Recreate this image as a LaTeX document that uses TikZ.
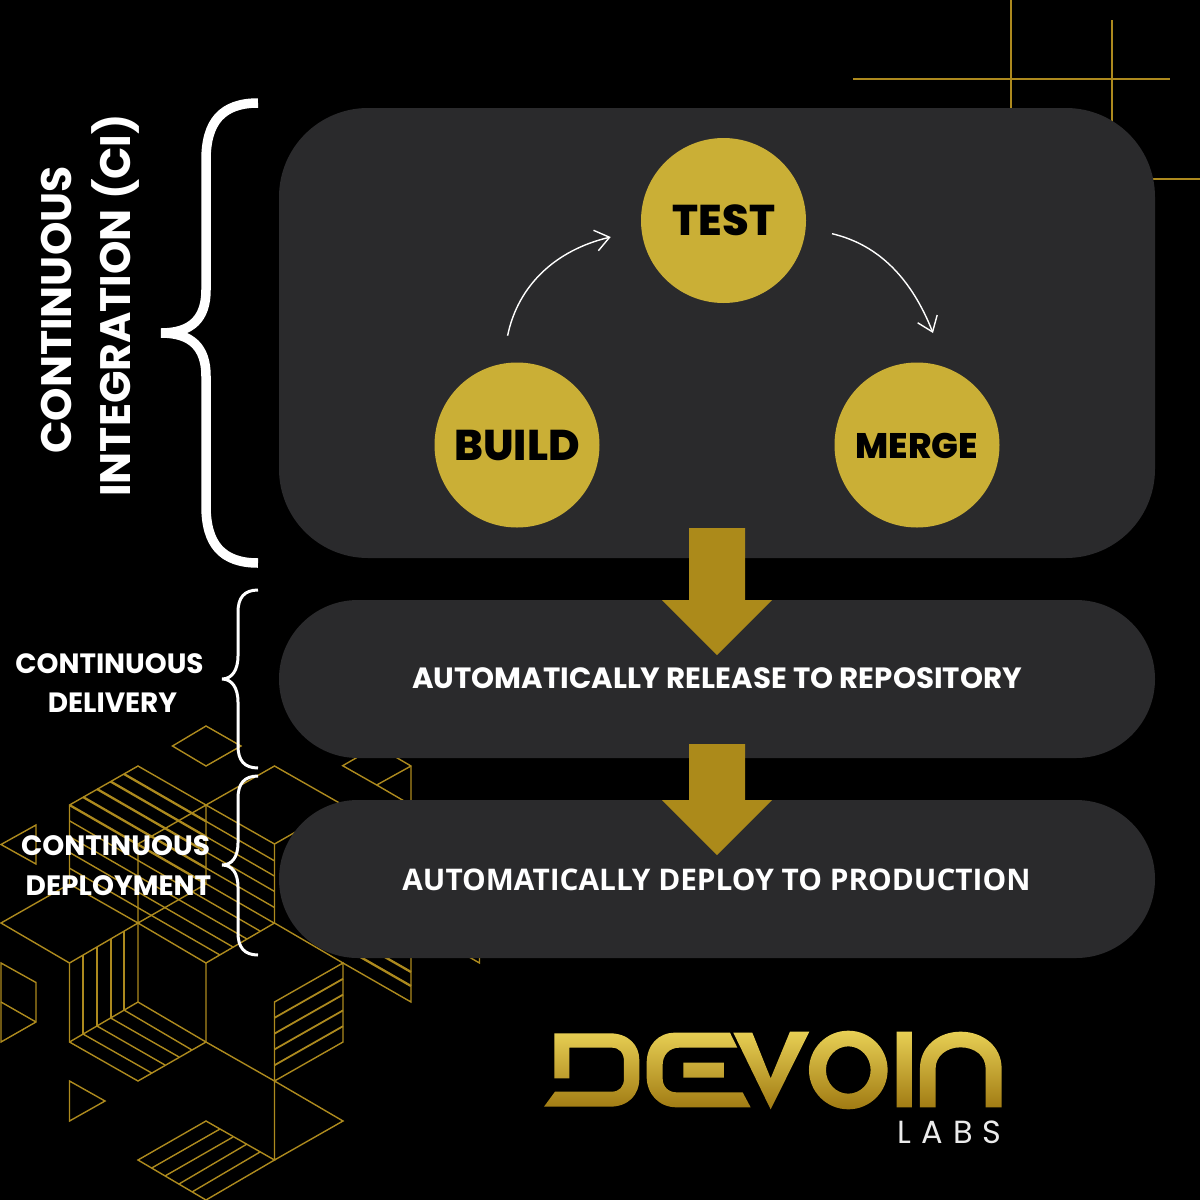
\documentclass[tikz,border=0pt]{standalone}
\usepackage{fontspec}
\usetikzlibrary{arrows.meta}
\setmainfont{Poppins}
\newfontfamily\heavyfont{Poppins ExtraBold}
\newfontfamily\osfont{Open Sans}
\newfontfamily\labsfont[LetterSpace=32]{Poppins}
\definecolor{bgblack}{HTML}{000000}
\definecolor{panel}{HTML}{2A2A2C}
\definecolor{goldline}{HTML}{AD8A1E}
\definecolor{goldcirc}{HTML}{CAAF36}
\definecolor{goldarrow}{HTML}{AC8A1A}
\definecolor{logotop}{HTML}{E8D055}
\definecolor{logomid}{HTML}{CFAE30}
\definecolor{logobot}{HTML}{A07A12}
\tikzset{
  pat/.style={draw=goldline,line width=1.4pt,line join=miter},
  patb/.style={draw=goldline,line width=2.3pt},
  panelbox/.style={fill=panel,draw=none},
  phase/.style={circle,fill=goldcirc,minimum size=165pt,inner sep=0pt},
  blackbold/.style={text=black,font=\heavyfont,inner sep=0pt,anchor=base},
  flowarrow/.style={draw=white,line width=1.4pt,-{Straight Barb[length=14pt,width=21pt,line width=1.4pt]}},
  downarrow/.style={fill=goldarrow,draw=none},
  bracebig/.style={draw=white,line width=9.5pt,line join=bevel},
  bracesmall/.style={draw=white,line width=3pt,line join=bevel},
  whitetext/.style={text=white,font=\bfseries,inner sep=0pt,anchor=base},
}
\begin{document}
\begin{tikzpicture}[x=1pt,y=-1pt]
\useasboundingbox (0,0) rectangle (1200,1200);
\fill[bgblack] (0,0) rectangle (1200,1200);
% top right lines
\draw[pat,line width=1.7pt] (853,79) -- (1170,79);
\draw[pat,line width=1.7pt] (1011,0) -- (1011,108);
\draw[pat,line width=1.7pt] (1112,20) -- (1112,126);
\draw[pat,line width=1.7pt] (1150,179) -- (1200,179);
% isometric pattern
\draw[pat] (172.5,746) -- (206,726) -- (241,746) -- (206,766) -- cycle;
\draw[pat] (36,825) -- (1,844.5) -- (36,864) -- cycle;
\draw[pat] (1,963) -- (36,982.5) -- (36,1022) -- (1,1042) -- cycle;
\draw[pat] (1,1002) -- (36,1022);
\draw[pat] (69.5,1081) -- (105,1101) -- (69.5,1121) -- cycle;
% upper cube
\draw[pat] (69.5,884) -- (69.5,805) -- (138,766) -- (206,805) -- (274.5,844) -- (274.5,923) -- (206,963) -- (138,923) -- (69.5,884);
\draw[pat] (206,805) -- (138,844) -- (138,923) -- (206,884) -- (206,805);
\draw[pat] (206,805) -- (274.5,766) -- (343,805) -- (411,844);
\draw[pat] (274.5,844) -- (343,805);
% hatches of upper cube
\foreach \xa/\ya in {124/774,110.6/781.5,97/789,83/797,69.5/805}{
  \pgfmathsetmacro\yb{\ya+(206-\xa)*0.577}
  \pgfmathsetmacro\yc{\ya+(274.5-\xa)*0.577}
  \draw[patb] (\xa,\ya) -- (206,\yb);
  \draw[pat] (206,\yb) -- (274.5,\yc);
}
\foreach \ya/\xb/\yb in {820.8/260/931,836.6/247/939,852.4/233/947,868.2/220/955}{
  \draw[pat] (69.5,\ya) -- (\xb,\yb);
}
% lower cube
\draw[pat] (69.5,884) -- (1,923) -- (69.5,963) -- (138,923);
\draw[pat] (69.5,963) -- (69.5,1042) -- (138,1081) -- (206,1042) -- (206,963);
\draw[pat] (138,923) -- (138,1002) -- (206,1042);
\draw[pat] (138,1002) -- (69.5,1042);
\foreach \xa/\ya/\yb in {83/955/1034,97/947/1026,110.7/939/1018,124/931/1010}{
  \draw[patb] (\xa,\ya) -- (\xa,\yb);
}
\foreach \xa/\ya/\xb/\yb in {83/1034/151.7/1073,97/1026/165/1065,110.7/1018/179/1057,124/1010/192/1050}{
  \draw[pat] (\xa,\ya) -- (\xb,\yb);
}
% bottom pieces
\draw[pat] (206,1042) -- (274.5,1081) -- (274.5,1160) -- (343,1121) -- (274.5,1081);
\draw[pat] (274.5,1160) -- (206,1200) -- (138,1160) -- (206,1121) -- cycle;
\foreach \xa/\ya/\xb/\yb in {151.7/1168/220/1129,165/1176/233/1137,179/1184/247/1144,192/1192/260/1152}{
  \draw[pat] (\xa,\ya) -- (\xb,\yb);
}
\draw[pat] (274.5,1002) -- (343,963) -- (343,1042) -- (274.5,1081) -- cycle;
\foreach \k in {1,2,3,4}{
  \draw[patb,line width=1.8pt] (274.5,1002+15.8*\k) -- (343,963+15.8*\k);
}
\draw[pat] (274.5,923) -- (343,963) -- (411,1002) -- (411,766) -- (376.7,746);
\draw[pat] (376.7,746) -- (342.7,765.7) -- (376.7,785) -- (411,805);
\draw[pat] (376.7,785) -- (411,766);
\draw[patb] (343,947) -- (411,986);
\draw[patb] (343,933) -- (411,972);
\draw[pat] (445,943) -- (479.5,963) -- (479.5,940);
% panels
\fill[panelbox,rounded corners=89pt] (279,108) rectangle (1155,558);
\fill[panelbox,rounded corners=78.9pt] (279,600) rectangle (1155,758);
\fill[panelbox,rounded corners=78.9pt] (279,800) rectangle (1155,958);
% circles
\node[phase] (test) at (723.5,220.5) {};
\node[phase] (build) at (517,445) {};
\node[phase] (merge) at (917,445) {};
\node[blackbold] (testt) at (724,235.5) {\fontsize{43}{43}\selectfont TEST};
\node[blackbold] (buildt) at (517,460.5) {\fontsize{43}{43}\selectfont BUILD};
\node[blackbold] (merget) at (917,458) {\fontsize{35.5}{35.5}\selectfont MERGE};
% flow arrows
\coordinate (ba) at (507.6,335.7);
\coordinate (bb) at (610.7,237);
\coordinate (ta) at (832,233.7);
\coordinate (tb) at (933,333);
\draw[flowarrow] (ba) .. controls (518,285) and (556,250) .. (bb);
\draw[flowarrow] (ta) .. controls (880,245) and (912,280) .. (tb);
% down arrows
\fill[downarrow] (689,528) -- (745,528) -- (745,600) -- (772,600) -- (717,655) -- (662,600) -- (689,600) -- cycle;
\fill[downarrow] (689,744) -- (745,744) -- (745,800) -- (772,800) -- (717,855) -- (662,800) -- (689,800) -- cycle;
% panel labels
\node[whitetext] (rel) at (717,688.5) {\fontsize{29.3}{29.3}\selectfont AUTOMATICALLY RELEASE TO REPOSITORY};
\node[whitetext,font=\osfont\bfseries] (dep) at (716.5,890) {\fontsize{29.8}{29.8}\selectfont AUTOMATICALLY DEPLOY TO PRODUCTION};
% braces
\draw[bracebig] (258,103) .. controls (222,103) and (206,122) .. (206,160) -- (206,290)
  .. controls (206,318) and (192,333) .. (161,333) .. controls (192,333) and (206,348) .. (206,376)
  -- (206,506) .. controls (206,544) and (222,563) .. (258,563);
\draw[bracesmall] (258,590) .. controls (244,590) and (238,598) .. (238,612) -- (238,656)
  .. controls (238,670) and (232,679) .. (222,679) .. controls (232,679) and (238,688) .. (238,702)
  -- (238,746) .. controls (238,760) and (244,768) .. (258,768);
\draw[bracesmall] (258,776) .. controls (244,776) and (238,784) .. (238,798) -- (238,843)
  .. controls (238,857) and (232,865) .. (222,865) .. controls (232,865) and (238,873) .. (238,887)
  -- (238,933) .. controls (238,947) and (244,955) .. (258,955);
% side labels
\node[whitetext,rotate=90] (ci1) at (71,310) {\fontsize{42.6}{42.6}\selectfont CONTINUOUS};
\node[whitetext,rotate=90] (ci2) at (130,305.5) {\fontsize{42.6}{42.6}\selectfont INTEGRATION (CI)};
\node[whitetext] (cd1) at (109.5,673) {\fontsize{27.9}{27.9}\selectfont CONTINUOUS};
\node[whitetext] (cd2) at (112.5,712) {\fontsize{27.9}{27.9}\selectfont DELIVERY};
\node[whitetext] (cp1) at (115.5,855) {\fontsize{28}{28}\selectfont CONTINUOUS};
\node[whitetext] (cp2) at (118.5,895) {\fontsize{28}{28}\selectfont DEPLOYMENT};
% logo
\begin{scope}[shift={(520,1010)},x=0.3333pt,y=-0.3333pt]
\shade[top color=logotop,middle color=logomid,bottom color=logobot,even odd rule]
  (103,70) -- (270,70) .. controls (325,70) and (358,105) .. (358,150) -- (358,205)
  .. controls (358,255) and (325,290) .. (270,290) -- (72,290) -- (105,245) -- (275,245)
  .. controls (298,245) and (312,230) .. (312,205) -- (312,155) .. controls (312,128) and (298,113) .. (275,113)
  -- (148,113) -- (148,205) -- (103,205) -- cycle
  (465,68) -- (630,68) -- (652,113) -- (478,113) .. controls (448,113) and (428,135) .. (428,165)
  -- (428,205) .. controls (428,230) and (445,247) .. (470,247) -- (668,247) -- (692,292) -- (470,292)
  .. controls (415,292) and (380,250) .. (380,200) -- (380,160) .. controls (380,105) and (415,68) .. (465,68) -- cycle
  (490,158) rectangle (612,203)
  (640,68) -- (697,68) -- (752,205) -- (810,65) -- (868,65) -- (752,298) -- cycle
  (1130,65) rectangle (1176,292)
  (1200,292) -- (1200,175) .. controls (1200,110) and (1255,65) .. (1322,65)
  .. controls (1390,65) and (1445,110) .. (1445,175) -- (1445,292) -- (1397,292) -- (1397,175)
  .. controls (1397,138) and (1365,112) .. (1322,112) .. controls (1280,112) and (1247,138) .. (1247,175)
  -- (1247,292) -- cycle
  (985,180) ellipse[x radius=118,y radius=118]
  (985,180) ellipse[x radius=67,y radius=71];
\end{scope}
\node[text=white!92!black,inner sep=0pt,anchor=base west] (labs) at (897,1143) {\labsfont\fontsize{32}{32}\selectfont LABS};
\end{tikzpicture}
\end{document}
